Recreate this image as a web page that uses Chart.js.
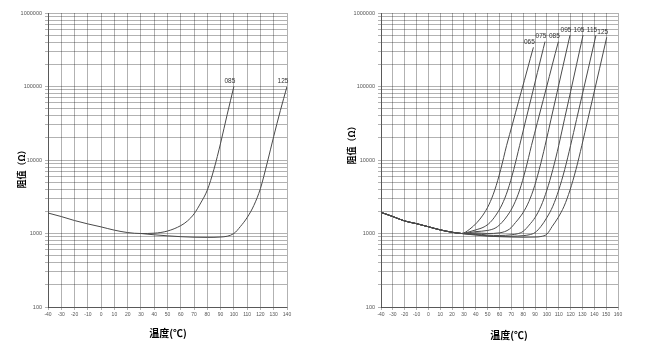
<!DOCTYPE html>
<html>
<head>
<meta charset="utf-8">
<script src="https://cdn.jsdelivr.net/npm/chart.js@4/dist/chart.umd.min.js"></script>
<style>
  body { margin: 0; background: #fff; width: 650px; height: 351px; overflow: hidden; position: relative; }
  canvas { position: absolute; top: 0; }
  #left { left: 0; }
  #right { left: 325px; }
</style>
</head>
<body>
<canvas id="left" width="325" height="351"></canvas>
<canvas id="right" width="325" height="351"></canvas>
<script>
// -------------------------------
// Data
// -------------------------------
const yDecades = [100, 1000, 10000, 100000, 1000000];

// left chart: 085 and 125
const leftNames = ["085", "125"];
const leftT085 = [-40, -30, -20, -10, 0, 10, 20, 30, 40, 50, 60, 65, 70, 75, 80, 85, 90, 95, 100];
const leftV085 = [1900, 1700, 1500, 1350, 1230, 1110, 1030, 1000, 1010, 1080, 1280, 1480, 1850, 2600, 3900, 7500, 17000, 42000, 100000];
const leftT125 = [30, 40, 50, 60, 70, 80, 90, 100, 105, 110, 115, 120, 125, 130, 135, 140];
const leftV125 = [1000, 960, 930, 905, 890, 885, 895, 1000, 1250, 1650, 2400, 4100, 9000, 21000, 47000, 100000];

// right chart: common start, then one branch per grade
const rightNames = ["065", "075", "085", "095", "105", "115", "125"];
const rightCommonT = [-40, -30, -20, -10, 0, 10, 20, 28];
const rightCommonV = [1940, 1700, 1480, 1360, 1235, 1120, 1040, 1000];
const rightT065 = [35, 41, 46, 51, 56, 61, 66, 71, 76, 81, 86, 88.6];
const rightV065 = [1150, 1410, 1780, 2450, 3900, 7400, 15800, 31000, 62000, 121000, 240000, 341000];
const rightT075 = [35, 40, 47, 52, 57, 62, 67, 72, 77, 82, 87, 92, 97, 98.4];
const rightV075 = [1060, 1120, 1230, 1410, 1780, 2450, 3900, 7400, 15800, 34000, 72000, 155000, 330000, 408000];
const rightT085 = [35, 40, 50, 57, 62, 67, 72, 77, 82, 87, 92, 97, 102, 107, 109.7];
const rightV085 = [1030, 1060, 1100, 1200, 1410, 1780, 2450, 3900, 7400, 15800, 32500, 66500, 136000, 280000, 408000];
const rightT095 = [35, 40, 50, 60, 68.5, 73.5, 78.5, 83.5, 88.5, 93.5, 98.5, 103.5, 108.5, 113.5, 119.5];
const rightV095 = [1000, 1020, 1000, 1020, 1150, 1410, 1780, 2450, 3900, 7400, 15800, 36000, 82000, 187000, 500000];
const rightT105 = [35, 40, 50, 60, 70, 75, 80, 85, 90, 95, 100, 105, 110, 115, 120, 125, 130.5];
const rightV105 = [990, 990, 950, 940, 960, 990, 1070, 1300, 1650, 2350, 3900, 7400, 15800, 37000, 85000, 198000, 500000];
const rightT115 = [35, 40, 50, 60, 70, 80, 85, 90, 95, 100, 105, 110, 115, 120, 125, 130, 135, 141.4];
const rightV115 = [980, 970, 930, 910, 915, 935, 960, 1030, 1250, 1650, 2350, 3900, 7400, 15800, 35500, 79000, 177000, 500000];
const rightT125 = [35, 40, 50, 60, 70, 80, 90, 95, 100, 104.5, 109.5, 114.5, 119.5, 124.5, 129.5, 134.5, 139.5, 144.5, 150.5];
const rightV125 = [970, 950, 920, 905, 895, 890, 895, 910, 980, 1250, 1650, 2350, 3900, 7400, 15800, 35500, 79000, 177000, 468000];

// -------------------------------
// Helpers
// -------------------------------
function points(ts, vs) {
  return ts.map((t, i) => ({ x: t, y: vs[i] }));
}

// log grid: 1..9 in every decade
const yTicks = [];
yDecades.forEach((d, i) => {
  if (i === yDecades.length - 1) { yTicks.push(d); return; }
  for (let k = 1; k <= 9; k++) yTicks.push(d * k);
});

function lineSet(name, data) {
  return {
    label: name,
    data: data,
    borderColor: "#4a4a4a",
    borderWidth: 1,
    pointRadius: 0,
    fill: false,
    cubicInterpolationMode: "monotone",
  };
}

// draws axis titles and the grade labels at each curve's end
function labelPlugin(yTitlePos, xTitlePos) {
  return {
    id: "labels",
    afterDraw(chart) {
      const ctx = chart.ctx;
      ctx.save();
      ctx.fillStyle = "#333";
      ctx.font = "6.5px 'Liberation Sans', Arial, sans-serif";
      ctx.textAlign = "center";
      ctx.textBaseline = "middle";
      chart.data.datasets.forEach((ds, i) => {
        const pts = chart.getDatasetMeta(i).data;
        const last = pts[pts.length - 1];
        ctx.fillText(ds.label, last.x - 4, last.y - 5);
      });

      ctx.fillStyle = "#000";
      ctx.font = "bold 10px 'Noto Sans CJK SC', sans-serif";
      ctx.fillText("温度(℃)", xTitlePos[0], xTitlePos[1]);

      ctx.translate(yTitlePos[0], yTitlePos[1]);
      ctx.rotate(-Math.PI / 2);
      ctx.font = "bold 9px 'Noto Sans CJK SC', sans-serif";
      ctx.fillText("阻值（Ω）", 0, 0);
      ctx.restore();
    },
  };
}

function makeChart(id, xMax, datasets, yAxisWidth, padRight, yTitlePos, xTitlePos) {
  return new Chart(document.getElementById(id), {
    type: "line",
    data: { datasets: datasets },
    options: {
      responsive: false,
      animation: false,
      layout: { padding: { top: 13, right: padRight, left: 0, bottom: 0 } },
      plugins: { legend: { display: false }, tooltip: { enabled: false } },
      scales: {
        x: {
          type: "linear",
          min: -40,
          max: xMax,
          afterFit: (s) => { s.height = 44; },
          ticks: {
            stepSize: 10,
            autoSkip: false,
            maxRotation: 0,
            padding: 2,
            color: "#555",
            font: { size: 5, family: "'Liberation Sans', Arial, sans-serif" },
          },
          grid: { color: "rgba(0,0,0,0.38)", lineWidth: 0.8, tickLength: 3 },
          border: { color: "rgba(0,0,0,0.5)" },
        },
        y: {
          type: "logarithmic",
          min: 100,
          max: 1000000,
          afterFit: (s) => { s.width = yAxisWidth; },
          afterBuildTicks: (s) => { s.ticks = yTicks.map((v) => ({ value: v })); },
          ticks: {
            autoSkip: false,
            padding: 3,
            color: "#555",
            font: { size: 5.5, family: "'Liberation Sans', Arial, sans-serif" },
            callback: (v) => (yDecades.includes(v) ? String(v) : ""),
          },
          grid: { color: "rgba(0,0,0,0.38)", lineWidth: 0.8, tickLength: 3 },
          border: { color: "rgba(0,0,0,0.5)" },
        },
      },
    },
    plugins: [labelPlugin(yTitlePos, xTitlePos)],
  });
}

// -------------------------------
// Left chart
// -------------------------------
const leftSets = [
  lineSet(leftNames[0], points(leftT085, leftV085)),
  lineSet(leftNames[1], points(leftT125, leftV125)),
];
makeChart("left", 140, leftSets, 48, 38, [22, 167], [168, 333]);

// -------------------------------
// Right chart
// -------------------------------
const rightBranches = [
  [rightT065, rightV065],
  [rightT075, rightV075],
  [rightT085, rightV085],
  [rightT095, rightV095],
  [rightT105, rightV105],
  [rightT115, rightV115],
  [rightT125, rightV125],
];
const rightSets = rightBranches.map((b, i) =>
  lineSet(rightNames[i], points(rightCommonT.concat(b[0]), rightCommonV.concat(b[1])))
);
makeChart("right", 160, rightSets, 56, 32, [27, 143], [184, 335]);
</script>
</body>
</html>
